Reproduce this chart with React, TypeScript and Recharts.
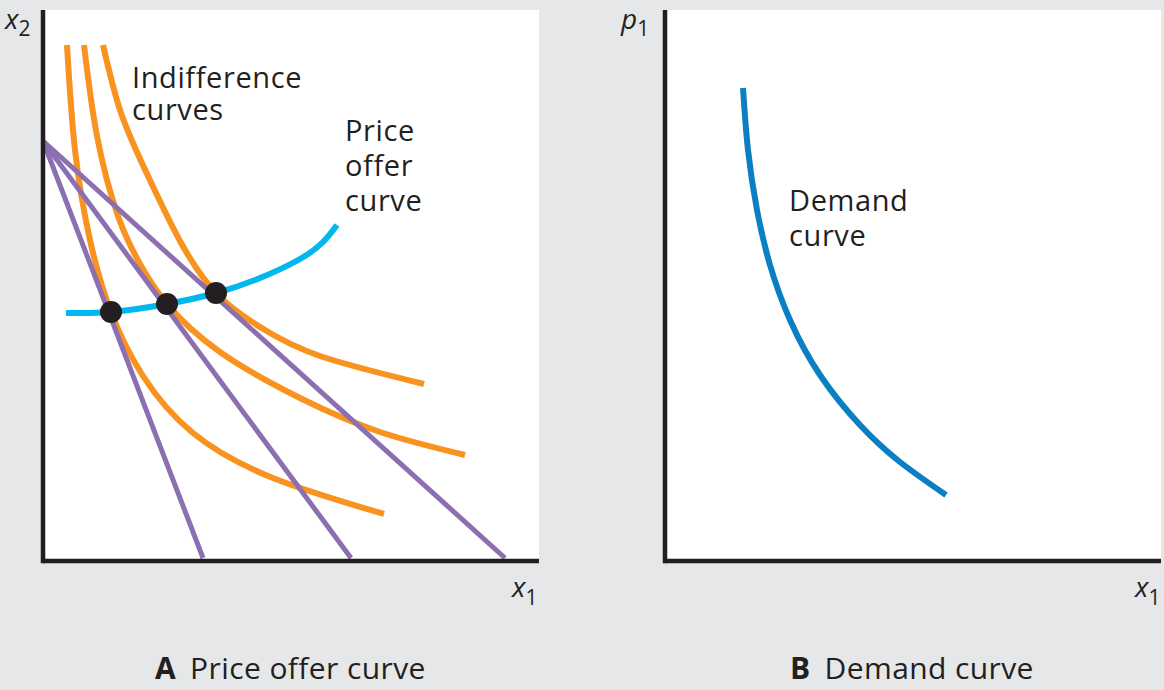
import React from 'react';
import { ComposedChart, Line, Scatter, XAxis, YAxis, CartesianGrid, ReferenceLine } from 'recharts';

// data units: x = px from the y axis, y = px above the x axis
const indiff1 = [
  { x: 24, y: 516 }, { x: 32, y: 411 }, { x: 47, y: 321 }, { x: 68, y: 249 },
  { x: 100, y: 185 }, { x: 150, y: 128 }, { x: 230, y: 83 }, { x: 341, y: 47 },
];
const indiff2 = [
  { x: 41, y: 516 }, { x: 54, y: 425 }, { x: 75, y: 345 }, { x: 97, y: 297 },
  { x: 124, y: 257 }, { x: 177, y: 209 }, { x: 257, y: 163 }, { x: 337, y: 129 }, { x: 422, y: 106 },
];
const indiff3 = [
  { x: 60, y: 516 }, { x: 78, y: 448 }, { x: 105, y: 385 }, { x: 137, y: 320 },
  { x: 173, y: 268 }, { x: 217, y: 234 }, { x: 277, y: 205 }, { x: 381, y: 177 },
];
const budget1 = [{ x: 0, y: 420 }, { x: 160, y: 3 }];
const budget2 = [{ x: 0, y: 420 }, { x: 308, y: 3 }];
const budget3 = [{ x: 0, y: 420 }, { x: 462, y: 3 }];
const offerCurve = [
  { x: 23, y: 248 }, { x: 68, y: 249 }, { x: 124, y: 257 }, { x: 173, y: 268 },
  { x: 217, y: 283 }, { x: 257, y: 302 }, { x: 280, y: 319 }, { x: 294, y: 336 },
];
const optima = [{ x: 68, y: 249 }, { x: 124, y: 257 }, { x: 173, y: 268 }];
const demand = [
  { x: 78, y: 473 }, { x: 83, y: 411 }, { x: 92, y: 351 }, { x: 105, y: 296 },
  { x: 125, y: 241 }, { x: 155, y: 186 }, { x: 195, y: 136 }, { x: 235, y: 99 }, { x: 281, y: 66 },
];

const ORANGE = '#f7931e';
const PURPLE = '#8b6fb1';
const CYAN = '#00b8ee';
const BLUE = '#0a7fc2';
const INK = '#231f20';
const BG = '#e6e7e8';
const FONT = '"Open Sans", Lato, sans-serif';

const Axes = () => (
  <>
    <CartesianGrid fill="#ffffff" horizontal={false} vertical={false} />
    <XAxis type="number" dataKey="x" domain={[0, 496]} hide allowDataOverflow />
    <YAxis type="number" dataKey="y" domain={[0, 551]} hide allowDataOverflow />
  </>
);

const AxisLines = () => (
  <>
    <ReferenceLine segment={[{ x: 0, y: -2.2 }, { x: 0, y: 551 }]} ifOverflow="visible" stroke={INK} strokeWidth={4.5} />
    <ReferenceLine y={0} stroke={INK} strokeWidth={4.5} ifOverflow="visible" />
  </>
);

const curve = (data: { x: number; y: number }[], color: string, w: number, type: 'natural' | 'linear' = 'natural') => (
  <Line data={data} dataKey="y" type={type} stroke={color} strokeWidth={w} dot={false} activeDot={false} isAnimationActive={false} />
);

const App: React.FC = () => (
  <div style={{ position: 'fixed', left: 0, top: 0, width: 1164, height: 690, background: BG, overflow: 'hidden' }}>
    <div style={{ position: 'absolute', left: 0, top: 0 }}>
      <ComposedChart width={600} height={690} margin={{ top: 10, left: 43, right: 61, bottom: 129 }}>
        {Axes()}
        {curve(indiff1, ORANGE, 6)}
        {curve(indiff2, ORANGE, 6)}
        {curve(indiff3, ORANGE, 6)}
        {curve(budget1, PURPLE, 5, 'linear')}
        {curve(budget2, PURPLE, 5, 'linear')}
        {curve(budget3, PURPLE, 5, 'linear')}
        {curve(offerCurve, CYAN, 6)}
        <Scatter
          data={optima}
          dataKey="y"
          isAnimationActive={false}
          shape={(p: any) => <circle cx={p.cx} cy={p.cy} r={11} fill={INK} />}
        />
        {AxisLines()}
      </ComposedChart>
    </div>
    <div style={{ position: 'absolute', left: 600, top: 0 }}>
      <ComposedChart width={564} height={690} margin={{ top: 10, left: 65, right: 3, bottom: 129 }}>
        {Axes()}
        {curve(demand, BLUE, 6)}
        {AxisLines()}
      </ComposedChart>
    </div>
    <svg width={1164} height={690} style={{ position: 'absolute', left: 0, top: 0, pointerEvents: 'none' }}
      fontFamily={FONT} fill={INK}>
      <g fontSize={29} letterSpacing={0.6}>
        <text x={132} y={88}>Indifference</text>
        <text x={132} y={120}>curves</text>
        <text x={345} y={141}>Price</text>
        <text x={345} y={176}>offer</text>
        <text x={345} y={211}>curve</text>
        <text x={789} y={211}>Demand</text>
        <text x={789} y={246}>curve</text>
      </g>
      <g fontSize={28}>
        <text x={5} y={29}><tspan fontStyle="italic">x</tspan><tspan fontSize={21} dy={7}>2</tspan></text>
        <text x={621} y={29}><tspan fontStyle="italic">p</tspan><tspan fontSize={21} dy={7}>1</tspan></text>
        <text x={512} y={597}><tspan fontStyle="italic">x</tspan><tspan fontSize={21} dy={8}>1</tspan></text>
        <text x={1135} y={597}><tspan fontStyle="italic">x</tspan><tspan fontSize={21} dy={8}>1</tspan></text>
      </g>
      <g fontSize={30} letterSpacing={0.4}>
        <text x={155} y={679}><tspan fontWeight="bold">A</tspan><tspan dx={14}>Price offer curve</tspan></text>
        <text x={790} y={679}><tspan fontWeight="bold">B</tspan><tspan dx={14}>Demand curve</tspan></text>
      </g>
    </svg>
  </div>
);

export default App;
